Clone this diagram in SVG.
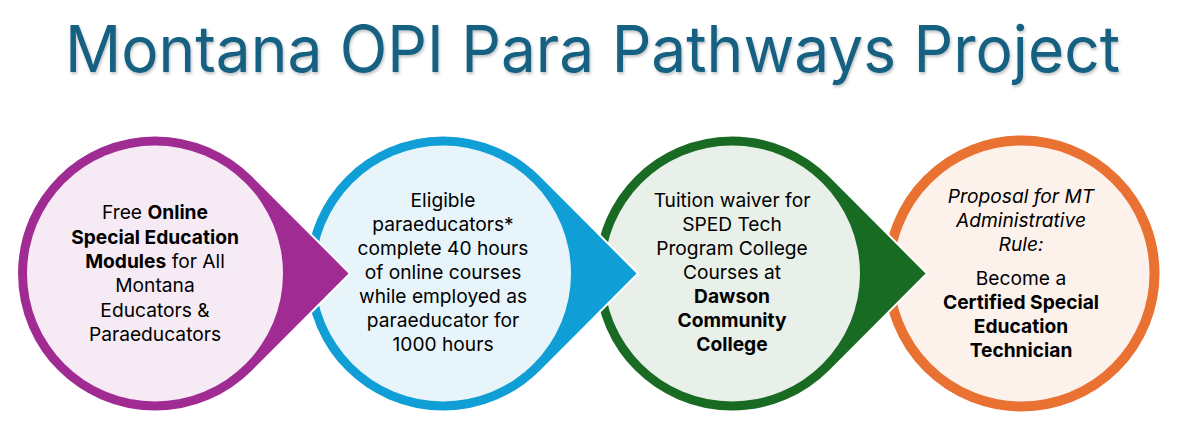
<svg xmlns="http://www.w3.org/2000/svg" width="1180" height="442" viewBox="0 0 1180 442">
<defs>
<style>
.t{font-family:Inter,"Liberation Sans",sans-serif;font-size:19.2px;fill:#000;text-anchor:middle}
.b{font-weight:bold}
.i{font-style:italic}
.drop{stroke:#fff;stroke-width:2;stroke-linejoin:miter}
.title{font-family:Inter,"Liberation Sans",sans-serif;font-size:64px;fill:#156082}
</style>
<filter id="sh" x="-5%" y="-20%" width="110%" height="150%">
<feDropShadow dx="1" dy="2" stdDeviation="1.5" flood-color="#000" flood-opacity="0.25"/>
</filter>
</defs>
<rect width="1180" height="442" fill="#fff"/>
<text id="title" class="title" x="65" y="71.5" textLength="1055" lengthAdjust="spacingAndGlyphs" filter="url(#sh)">Montana OPI Para Pathways Project</text>

<g id="node4">
<circle cx="1021.5" cy="273.5" r="133" fill="#FDF1EB" stroke="#E97132" stroke-width="10"/>
<text class="t"><tspan class="i" x="1021" y="203">Proposal for MT</tspan><tspan class="i" x="1021" y="227">Administrative</tspan><tspan class="i" x="1021" y="250.5">Rule:</tspan><tspan x="1021" y="285">Become a</tspan><tspan class="b" x="1021" y="309">Certified Special</tspan><tspan class="b" x="1021" y="333">Education</tspan><tspan class="b" x="1021" y="357">Technician</tspan></text>
</g>

<g id="node3">
<path class="drop" fill="#196B24" d="M927 273.5 L829.6 175.9 A138 138 0 1 0 829.6 371.1 Z"/>
<circle cx="732" cy="273.5" r="128" fill="#E8F0E9"/>
<text class="t"><tspan x="732" y="207">Tuition waiver for</tspan><tspan x="732" y="231">SPED Tech</tspan><tspan x="732" y="255">Program College</tspan><tspan x="732" y="279">Courses at</tspan><tspan class="b" x="732" y="303">Dawson</tspan><tspan class="b" x="732" y="327">Community</tspan><tspan class="b" x="732" y="351">College</tspan></text>
</g>

<g id="node2">
<path class="drop" fill="#0F9ED5" d="M638 273.5 L540.6 175.9 A138 138 0 1 0 540.6 371.1 Z"/>
<circle cx="443" cy="273.5" r="128" fill="#E7F5FB"/>
<text class="t"><tspan x="443" y="207">Eligible</tspan><tspan x="443" y="231">paraeducators*</tspan><tspan x="443" y="255">complete 40 hours</tspan><tspan x="443" y="279">of online courses</tspan><tspan x="443" y="303">while employed as</tspan><tspan x="443" y="327">paraeducator for</tspan><tspan x="443" y="351">1000 hours</tspan></text>
</g>

<g id="node1">
<path class="drop" fill="#A02B93" d="M350 273.5 L252.6 175.9 A138 138 0 1 0 252.6 371.1 Z"/>
<circle cx="155" cy="273.5" r="128" fill="#F6EAF4"/>
<text class="t"><tspan x="155" y="219">Free <tspan class="b">Online</tspan></tspan><tspan class="b" x="155" y="243.5">Special Education</tspan><tspan x="155" y="268"><tspan class="b">Modules</tspan> for All</tspan><tspan x="155" y="292">Montana</tspan><tspan x="155" y="316.5">Educators &amp;</tspan><tspan x="155" y="341">Paraeducators</tspan></text>
</g>
</svg>
